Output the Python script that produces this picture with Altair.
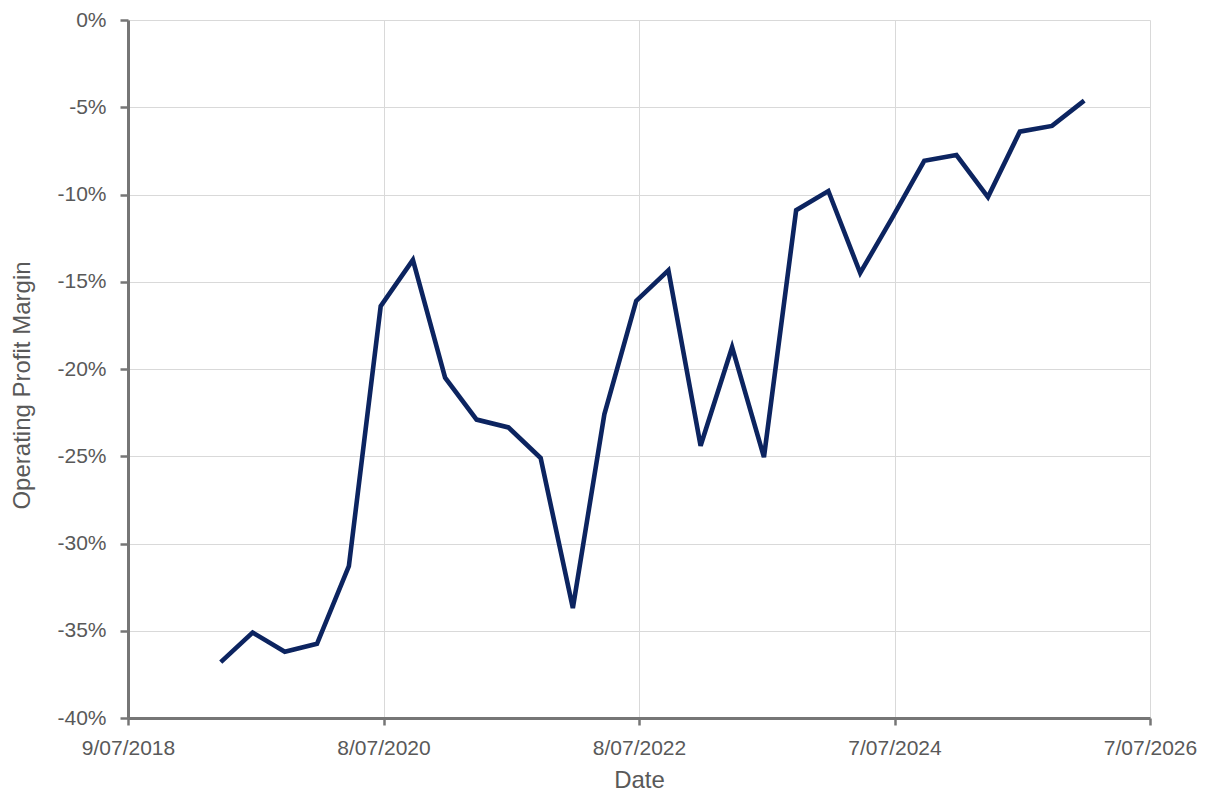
import altair as alt
import pandas as pd

dates = [
    "2019-03-31", "2019-06-30", "2019-09-30", "2019-12-31",
    "2020-03-31", "2020-06-30", "2020-09-30", "2020-12-31",
    "2021-03-31", "2021-06-30", "2021-09-30", "2021-12-31",
    "2022-03-31", "2022-06-30", "2022-09-30", "2022-12-31",
    "2023-03-31", "2023-06-30", "2023-09-30", "2023-12-31",
    "2024-03-31", "2024-06-30", "2024-09-30", "2024-12-31",
    "2025-03-31", "2025-06-30", "2025-09-30", "2025-12-31",
]
margin_pct = [
    -36.8, -35.1, -36.2, -35.75,
    -31.3, -16.4, -13.75, -20.5,
    -22.9, -23.35, -25.1, -33.7,
    -22.6, -16.1, -14.35, -24.4,
    -18.75, -25.05, -10.9, -9.8,
    -14.5, -11.35, -8.07, -7.74,
    -10.15, -6.4, -6.07, -4.62,
]
y_ticks = [0, -5, -10, -15, -20, -25, -30, -35, -40]
x_ticks = [(2018, 7, 9), (2020, 7, 8), (2022, 7, 8), (2024, 7, 7), (2026, 7, 7)]

df = pd.DataFrame({"Date": dates, "Margin": margin_pct})

FONT = "Liberation Sans"
LABEL = "#595959"
AXIS = "#767676"
GRID = "#d9d9d9"

x_vals = [alt.DateTime(year=y, month=m, date=d, utc=True) for (y, m, d) in x_ticks]

chart = (
    alt.Chart(df)
    .mark_line(color="#0c2460", strokeWidth=4.6, strokeJoin="miter")
    .encode(
        x=alt.X(
            "Date:T",
            title="Date",
            scale=alt.Scale(type="utc", domain=[x_vals[0], x_vals[-1]], nice=False),
            axis=alt.Axis(
                values=x_vals,
                format="%-d/%m/%Y",
                labelFont=FONT,
                labelFontSize=21,
                labelColor=LABEL,
                labelPadding=12,
                labelOverlap=False,
                labelFlush=False,
                tickSize=7,
                tickColor=AXIS,
                tickWidth=2.5,
                domainColor=AXIS,
                domainWidth=3,
                grid=True,
                gridColor=GRID,
                gridWidth=1,
                titleFont=FONT,
                titleFontSize=24,
                titleFontWeight="normal",
                titleColor=LABEL,
                titleBaseline="alphabetic",
                titleY=69,
            ),
        ),
        y=alt.Y(
            "Margin:Q",
            title="Operating Profit Margin",
            scale=alt.Scale(domain=[-40, 0], nice=False),
            axis=alt.Axis(
                values=y_ticks,
                labelExpr="datum.value + '%'",
                labelFont=FONT,
                labelFontSize=21,
                labelColor=LABEL,
                labelPadding=14,
                labelOverlap=False,
                tickSize=8,
                tickColor=AXIS,
                tickWidth=2.5,
                domainColor=AXIS,
                domainWidth=3,
                grid=True,
                gridColor=GRID,
                gridWidth=1,
                titleFont=FONT,
                titleFontSize=24,
                titleFontWeight="normal",
                titleColor=LABEL,
                titleAngle=270,
                titleAlign="center",
                titleBaseline="alphabetic",
                titleX=-99,
                titleY=365,
            ),
        ),
    )
    .properties(
        width=1022,
        height=698,
        autosize=alt.AutoSizeParams(type="none"),
        padding={"left": 128, "top": 20, "right": 71, "bottom": 80},
        background="white",
    )
    .configure_view(stroke=None)
)

chart.save("out.html", embed_options={"renderer": "svg", "actions": False})
